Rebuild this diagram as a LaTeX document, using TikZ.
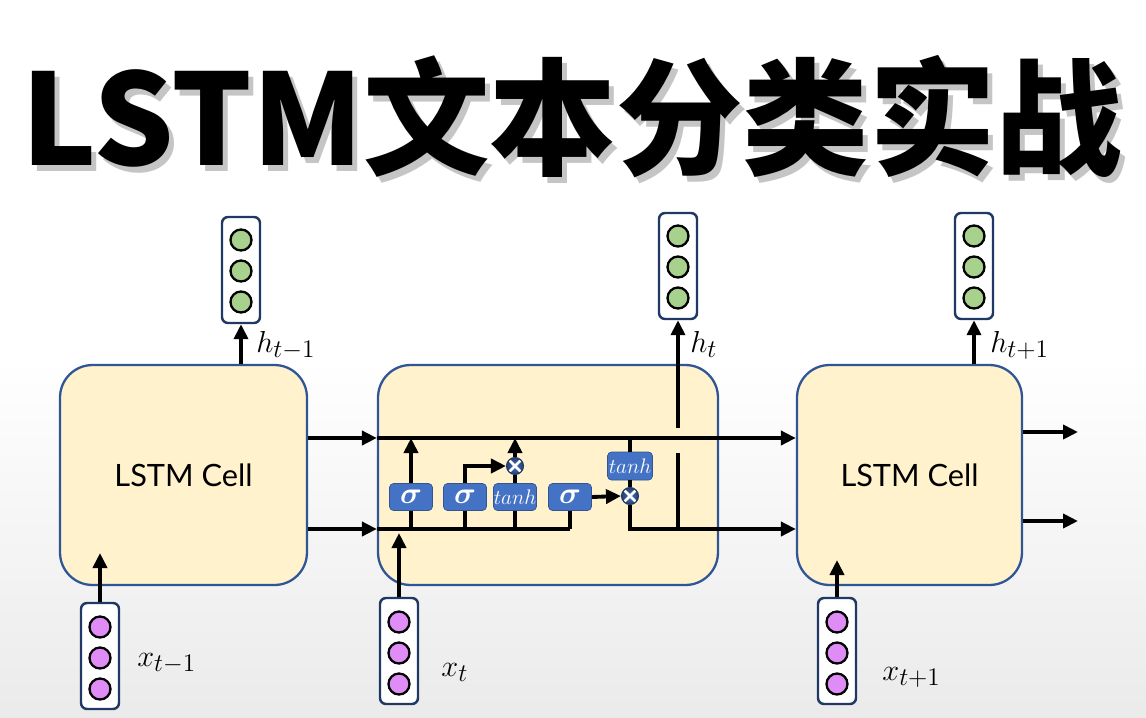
\documentclass[tikz,border=0pt]{standalone}
\usepackage{bm}
\usepackage{fontspec}
\newfontfamily\titlefont{Noto Sans CJK SC}
\newfontfamily\cellfont{Lato}
\usetikzlibrary{arrows.meta}
\definecolor{cellfill}{HTML}{FFF2CC}
\definecolor{celledge}{HTML}{2F5597}
\definecolor{gatefill}{HTML}{4472C4}
\definecolor{vecedge}{HTML}{203864}
\definecolor{hfill}{HTML}{A9D18E}
\definecolor{xfill}{HTML}{E08CF7}
\tikzstyle{cell}=[draw=celledge,fill=cellfill,line width=1.3pt,rounded corners=.65cm,inner sep=0pt,font=\cellfont\fontsize{17.5}{20}\selectfont]
\tikzstyle{vec}=[draw=vecedge,fill=white,line width=1.4pt,rounded corners=.12cm,minimum width=.76cm,minimum height=2.12cm,inner sep=0pt]
\tikzstyle{hdot}=[circle,draw=black,line width=1.3pt,fill=hfill,minimum size=.42cm,inner sep=0pt]
\tikzstyle{xdot}=[circle,draw=black,line width=1.3pt,fill=xfill,minimum size=.42cm,inner sep=0pt]
\tikzstyle{gate}=[draw=gatefill!75!black,line width=.4pt,fill=gatefill,rounded corners=.08cm,minimum width=.86cm,minimum height=.54cm,inner sep=0pt,text=white]
\tikzstyle{mult}=[circle,draw=vecedge,line width=.6pt,inner color=gatefill,outer color=gatefill!55!black,minimum size=.34cm,inner sep=0pt,
  path picture={\draw[white,line width=1.5pt]
    ([shift={(-.11cm,-.11cm)}]path picture bounding box.center) -- ([shift={(.11cm,.11cm)}]path picture bounding box.center)
    ([shift={(-.11cm,.11cm)}]path picture bounding box.center) -- ([shift={(.11cm,-.11cm)}]path picture bounding box.center);}]
\tikzstyle{wire}=[line width=2.2pt]
\tikzstyle{arr}=[line width=2.2pt,-{Triangle[length=.3cm,width=.28cm]}]
\tikzstyle{lab}=[inner sep=0pt,font=\fontsize{19}{22}\selectfont]

\begin{document}
\begin{tikzpicture}[x=0.02cm,y=-0.02cm]
\shade[top color=white,bottom color=black!8,middle color=white] (0,0) rectangle (1146,717);
\useasboundingbox (0,0) rectangle (1146,717);

% title
\node[anchor=base,text=black!50,opacity=.45] (tshadow) at (577,171) {\titlefont\bfseries\fontsize{72}{80}\selectfont LSTM文本分类实战};
\node[anchor=base] (title) at (572,165) {\titlefont\bfseries\fontsize{72}{80}\selectfont LSTM文本分类实战};

% cells
\node[cell,minimum width=4.94cm,minimum height=4.4cm] (cl) at (183.5,475) {LSTM Cell};
\node[cell,minimum width=6.8cm,minimum height=4.4cm] (cm) at (548,475) {};
\node[cell,minimum width=4.5cm,minimum height=4.4cm] (cr) at (909.5,475) {LSTM Cell};

% hidden vectors
\node[vec] (vh1) at (241,270) {};
\node[hdot] (vh1a) at (241,240) {};
\node[hdot] (vh1b) at (241,271) {};
\node[hdot] (vh1c) at (241,302) {};
\node[vec] (vh2) at (678,266) {};
\node[hdot] (vh2a) at (678,236) {};
\node[hdot] (vh2b) at (678,267) {};
\node[hdot] (vh2c) at (678,298) {};
\node[vec] (vh3) at (974,266) {};
\node[hdot] (vh3a) at (974,236) {};
\node[hdot] (vh3b) at (974,267) {};
\node[hdot] (vh3c) at (974,298) {};

% input vectors
\node[vec] (vx1) at (100,656) {};
\node[xdot] (vx1a) at (100,627) {};
\node[xdot] (vx1b) at (100,658) {};
\node[xdot] (vx1c) at (100,689) {};
\node[vec] (vx2) at (399,651) {};
\node[xdot] (vx2a) at (399,622) {};
\node[xdot] (vx2b) at (399,653) {};
\node[xdot] (vx2c) at (399,684) {};
\node[vec] (vx3) at (837,651) {};
\node[xdot] (vx3a) at (837,622) {};
\node[xdot] (vx3b) at (837,653) {};
\node[xdot] (vx3c) at (837,684) {};

% labels
\node[lab,anchor=base west] (lh1) at (256,352) {$h_{t-1}$};
\node[lab,anchor=base west] (lh2) at (690,352) {$h_t$};
\node[lab,anchor=base west] (lh3) at (990,352) {$h_{t+1}$};
\node[lab,anchor=base west] (lx1) at (137,666) {$x_{t-1}$};
\node[lab,anchor=base west] (lx2) at (441,676) {$x_t$};
\node[lab,anchor=base west] (lx3) at (882,680) {$x_{t+1}$};

% gates
\node[gate] (g1) at (411,497) {\fontsize{19}{19}\selectfont$\bm{\sigma}$};
\node[gate] (g2) at (465,497) {\fontsize{19}{19}\selectfont$\bm{\sigma}$};
\node[gate] (g3) at (515,497) {\fontsize{13}{12}\selectfont$tanh$};
\node[gate] (g4) at (570,497) {\fontsize{19}{19}\selectfont$\bm{\sigma}$};
\node[gate,minimum width=.9cm,minimum height=.56cm] (g5) at (630,466) {\fontsize{13}{12}\selectfont$tanh$};
\node[mult] (m1) at (515,466) {};
\node[mult] (m2) at (630,496) {};

% line levels
\coordinate (cs) at (0,438);
\coordinate (hs) at (0,529);
\coordinate (hj) at (678,453);
\coordinate (hk) at (678,428);
\coordinate (o1) at (1078,432);
\coordinate (o2) at (1078,521);
\coordinate (xin1) at (100,553);
\coordinate (xin2) at (399,533);
\coordinate (xin3) at (837,560);

% outputs and inputs
\draw[arr] (cl.north -| vh1) -- (vh1.south);
\draw[arr] (hk) -- (vh2.south);
\draw[arr] (cr.north -| vh3) -- (vh3.south);
\draw[arr] (vx1.north) -- (xin1);
\draw[arr] (vx2.north) -- (xin2);
\draw[arr] (vx3.north) -- (xin3);

% between cells
\draw[arr] (cl.east |- cs) -- (cm.west |- cs);
\draw[arr] (cl.east |- hs) -- (cm.west |- hs);
\draw[arr] (cm.west |- cs) -- (cr.west |- cs);
\draw[arr] (cr.east |- o1) -- (o1);
\draw[arr] (cr.east |- o2) -- (o2);

% inside the middle cell
\draw[wire] (cm.west |- hs) -- (g4.south |- hs);
\draw[wire] (g1.south) -- (g1.south |- hs);
\draw[wire] (g2.south) -- (g2.south |- hs);
\draw[wire] (g3.south) -- (g3.south |- hs);
\draw[wire] (g4.south) -- (g4.south |- hs);
\draw[arr] (g1.north) -- (g1.north |- cs);
\draw[arr] (g2.north) |- (m1.west);
\draw[wire] (g3.north) -- (m1.south);
\draw[arr] (m1.north) -- (m1.north |- cs);
\draw[arr] (g4.east) -- (m2.west);
\draw[wire] (g5.north |- cs) -- (g5.north);
\draw[wire] (g5.south) -- (m2.north);
\draw[arr] (m2.south) |- (cr.west |- hs);
\draw[wire] (vh2 |- hs) -- (hj);
\end{tikzpicture}
\end{document}
